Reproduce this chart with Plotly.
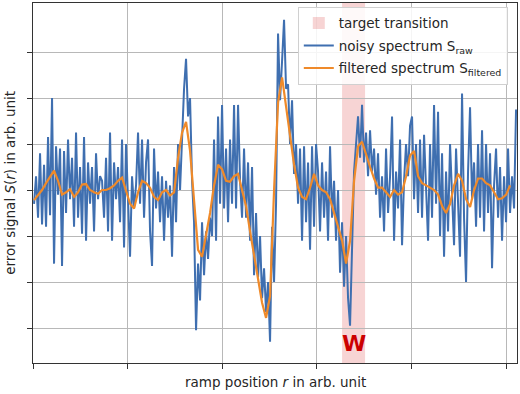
import numpy as np
import plotly.graph_objects as go

# noisy spectrum values (arb. unit), evenly sampled along the ramp
raw_a = [-0.3, 0.3, -0.6, 0.8, -0.75, 0.55, -0.8, 1.15, -0.55, 2.0, -1.6, 0.95, -0.1, 0.9, -1.65, 0.85,
         -0.5, 1.1, -0.2, 0.7, -0.8, 1.25, -0.6, 0.5, -0.95, 1.15, -1.1, 0.6, -0.3, 0.5, -0.9, 0.8, -0.2, 0.3]
raw_b = [0.2, -0.6, 0.7, -0.9, 1.25, -1.1, 0.6, -0.2, 0.5, -0.7, 1.1, -1.25, 1.0, -0.5, -1.45, 0.3, -0.4,
         0.1, 1.25, -0.3, 1.1, -0.6, 0.6, 1.1, -0.9, -1.65, 0.9, -0.4, 0.4, -0.7, 0.3, -1.1, 0.2, -0.6, 0.1]
raw_c = [-1.45, 0.5, -0.7, 1.0, 0.0, 1.1, 2.2, 2.85, 1.6, 2.0, 0.2, -0.7, -3.05, -1.6, -2.4, -0.7, -1.85,
         -0.9, -1.5, -0.6, -1.0, 1.1, -1.1, 1.6, -0.3, 1.85, -0.4, 0.9, -0.7, 1.1, -0.3, 1.85, -0.4, 1.85, 0.2]
raw_d = [-0.6, 0.9, -0.6, 0.6, -1.1, 0.5, -1.85, -0.5, -1.9, -1.0, -2.35, -1.7, -2.65, -2.0, -3.3, -0.8,
         -2.0, -0.3, 3.4, 1.95, 2.8, 3.7, 2.2, 2.3, 1.0, 1.95, 0.35, 1.0, -0.3, 0.9, -1.1, 0.95, -0.7, 0.6, -1.3]
raw_e = [0.95, -0.8, 1.0, 0.4, -0.9, 0.6, -0.6, 0.4, -1.1, 0.95, -0.6, 0.2, -1.1, 0.0, -1.8, -0.7, -2.1,
         -1.0, -2.35, -2.95, -1.4, 0.4, 1.0, 1.6, 0.7, 1.85, 0.6, 1.25, 0.3, 1.3, 0.4, 0.9, -0.1, 0.8, -0.6]
raw_f = [0.3, -0.9, 0.9, -0.5, 0.3, 1.6, -1.1, 0.4, -0.4, 1.1, -1.2, 0.2, 1.0, 0.3, 1.4, 1.6, -0.2, 1.0,
         -0.5, 1.1, -0.6, 1.2, -0.1, -1.1, 1.0, -0.6, 1.85, -0.3, 1.7, -1.0, 0.8, -1.45, 0.4, -0.9, 1.0]
raw_g = [-0.2, -1.2, 0.9, -0.5, -1.45, 2.1, -0.6, -2.0, 0.4, 1.8, -0.2, 0.6, -0.8, 1.0, -0.6, 1.3, -0.9,
         1.0, -0.5, 0.8, -1.7, 0.1, 0.9, -0.6, 0.5, -1.1, 0.3, -0.7, 0.9, -0.5, 0.3, -0.4, 1.75]
s_raw = raw_a + raw_b + raw_c + raw_d + raw_e + raw_f + raw_g

# filtered spectrum values
s_filtered = [-0.22, -0.1, 0.0, 0.15, 0.3, 0.42, 0.2, -0.1, -0.05, 0.02, -0.15, -0.05, 0.12, 0.13, 0.0, -0.05,
              -0.08, 0.0, 0.0, 0.04, 0.1, 0.2, 0.27, 0.0, -0.3, -0.4, -0.05, 0.2, 0.15, 0.05, -0.15, -0.22,
              -0.05, 0.0, -0.12, -0.05, 0.7, 1.25, 1.48, 0.85, -0.3, -1.3, -1.45, -1.0, -0.5, 0.1, 0.55, 0.45,
              0.2, 0.18, 0.3, 0.35, 0.0, -0.35, -0.9, -1.4, -1.95, -2.45, -2.78, -2.3, 0.0, 1.9, 2.45, 1.8,
              1.25, 0.55, 0.05, -0.15, -0.2, 0.05, 0.35, 0.1, 0.0, -0.05, -0.2, -0.5, -0.8, -1.1, -1.6, -1.1,
              0.2, 0.95, 1.05, 0.75, 0.5, 0.25, 0.05, 0.05, -0.05, -0.15, 0.0, -0.1, -0.05, 0.3, 0.75, 0.85,
              0.3, 0.15, 0.1, 0.05, 0.0, -0.1, -0.35, -0.5, -0.3, 0.1, 0.35, 0.2, -0.2, -0.37, 0.0, 0.25,
              0.25, 0.15, 0.1, -0.05, -0.2, -0.18, -0.1, 0.1]

# ramp positions
r_raw = np.linspace(0.011, 5.106, len(s_raw))
r_filtered = np.linspace(0.011, 5.043, len(s_filtered))

# target transition span and label
target_span = [3.267, 3.51]
target_label = "W"
label_pos = [3.39, -3.33]

x_ticks = [0, 1, 2, 3, 4, 5]
y_ticks = [-3, -2, -1, 0, 1, 2, 3]
x_range = [0, 5.116]
y_range = [-3.76, 4.065]

x_title = "ramp position <i>r</i> in arb. unit"
y_title = "error signal <i>S</i>(<i>r</i>) in arb. unit"

blue = "#3f6fb0"
orange = "#ef8a2a"
fs = 13.5

fig = go.Figure()
fig.add_trace(go.Scatter(x=r_raw, y=s_raw, mode="lines", name="noisy spectrum S<sub>raw</sub>",
                         line=dict(color=blue, width=2), legendrank=2, legendgroup="b"))
fig.add_trace(go.Scatter(x=r_filtered, y=s_filtered, mode="lines", name="filtered spectrum S<sub>filtered</sub>",
                         line=dict(color=orange, width=2.2), legendrank=3, legendgroup="c"))
fig.add_shape(type="rect", xref="x", yref="paper", x0=target_span[0], x1=target_span[1], y0=0, y1=1,
              fillcolor="rgba(220,60,60,0.22)", line=dict(width=0), layer="below",
              showlegend=True, name="target transition", legendrank=1, legendgroup="a")
fig.add_annotation(x=label_pos[0], y=label_pos[1], text="<b>" + target_label + "</b>", showarrow=False,
                   font=dict(size=22, color="#cc0000", family="DejaVu Sans"))
fig.add_annotation(xref="paper", yref="paper", x=0.5, y=-0.053, text=x_title, showarrow=False,
                   xanchor="center", yanchor="middle", font=dict(size=fs, color="#262626"))
fig.add_annotation(xref="paper", yref="paper", x=-0.048, y=0.5, text=y_title, showarrow=False,
                   textangle=-90, xanchor="center", yanchor="middle", font=dict(size=fs, color="#262626"))

axis_common = dict(showline=True, linecolor="#333333", linewidth=1, mirror=True,
                   showgrid=True, gridcolor="#b8b8b8", gridwidth=1, zeroline=False,
                   ticks="outside", ticklen=5, tickcolor="#333333", showticklabels=False,
                   automargin=False)
fig.update_xaxes(range=x_range, tickvals=x_ticks, **axis_common)
fig.update_yaxes(range=y_range, tickvals=y_ticks, **axis_common)

fig.update_layout(
    width=520, height=394,
    margin=dict(l=33, r=3, t=3, b=31, autoexpand=False),
    paper_bgcolor="white", plot_bgcolor="white",
    font=dict(family="DejaVu Sans", size=fs, color="#262626"),
    legend=dict(x=0.981, y=0.99, xanchor="right", yanchor="top",
                bgcolor="rgba(255,255,255,0.85)", bordercolor="#d0d0d0", borderwidth=1,
                font=dict(size=fs), tracegroupgap=2, itemwidth=30),
    showlegend=True,
)

fig.write_html("out.html", config={"displayModeBar": False},
               post_script="document.body.style.margin='0';document.body.style.overflow='hidden';")
